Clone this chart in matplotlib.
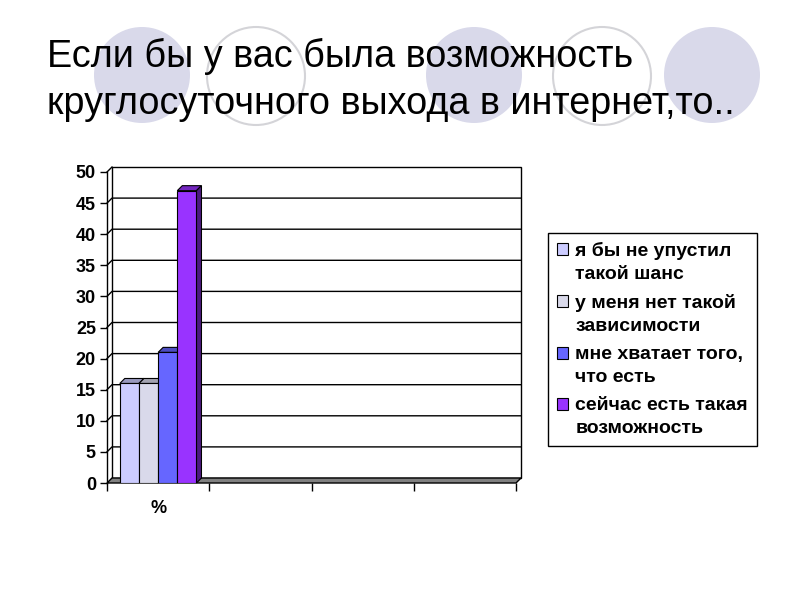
import matplotlib.pyplot as plt
from matplotlib.patches import Polygon, Rectangle, Circle, Patch
from matplotlib.legend_handler import HandlerPatch
import matplotlib.colors as mcolors

plt.rcParams['font.family'] = ['Liberation Sans', 'DejaVu Sans']

# data
title_lines = ['Если бы у вас была возможность',
               'круглосуточного выхода в интернет,то..']
categories = ['%', '', '', '']
series_names = ['я бы не упустил\nтакой шанс',
                'у меня нет такой\nзависимости',
                'мне хватает того,\nчто есть',
                'сейчас есть такая\nвозможность']
series_values = [16, 16, 21, 47]
series_colors = ['#CCCCFF', '#D9D9EA', '#6666FF', '#9933FF']
y_ticks = list(range(0, 55, 5))

fig = plt.figure(figsize=(8, 6), dpi=100)

# slide decoration + title, drawn in pixel coords
bg = fig.add_axes([0, 0, 1, 1])
bg.set_xlim(0, 800)
bg.set_ylim(600, 0)
bg.axis('off')
for cx, filled in [(142, True), (256, False), (474, True), (602, False), (712, True)]:
    if filled:
        bg.add_patch(Circle((cx, 75), 48, facecolor='#D9D9EA', edgecolor='none'))
    else:
        bg.add_patch(Circle((cx, 76), 49, facecolor='white', edgecolor='#D4D4D8', lw=1.5))
for i, line in enumerate(title_lines):
    bg.text(47, 67 + i * 47, line, fontsize=27.2, va='baseline', ha='left', color='black')

# chart (front plane of the 3d box)
ax = fig.add_axes([107 / 800, 117 / 600, 409 / 800, 311 / 600])
ax.set_xlim(0, len(categories))
ax.set_ylim(0, 50)
ax.patch.set_visible(False)
for s in ['top', 'right', 'bottom']:
    ax.spines[s].set_visible(False)
ax.spines['left'].set_linewidth(1)
ax.spines['left'].set_zorder(20)

ax.set_yticks(y_ticks)
ax.set_yticklabels([str(t) for t in y_ticks], fontsize=13, fontweight='bold')
ax.tick_params(axis='y', direction='out', length=5, width=1, pad=3)
ax.set_xticks(range(len(categories) + 1))
ax.set_xticklabels([])
ax.tick_params(axis='x', which='major', direction='out', length=6, width=1)
ax.set_xticks([i + 0.5 for i in range(len(categories))], minor=True)
ax.set_xticklabels(categories, minor=True, fontsize=13, fontweight='bold')
ax.tick_params(axis='x', which='minor', length=0, pad=12)

# depth of the 3d effect, 5 px
dx = 5 / (409 / len(categories))
dy = 5 / (311 / 50)
n_cat = len(categories)

ax.add_patch(Rectangle((dx, dy), n_cat, 50, facecolor='white', edgecolor='black',
                       lw=1, clip_on=False, zorder=0))
for v in y_ticks[1:-1]:
    ax.plot([0, dx, n_cat + dx], [v, v + dy, v + dy], color='black', lw=1,
            clip_on=False, zorder=1)
ax.plot([0, dx], [50, 50 + dy], color='black', lw=1, clip_on=False, zorder=1)
ax.add_patch(Polygon([(0, 0), (n_cat, 0), (n_cat + dx, dy), (dx, dy)],
                     closed=True, facecolor='#808080', edgecolor='black', lw=1,
                     clip_on=False, zorder=2))


def shade(c, f):
    r, g, b = mcolors.to_rgb(c)
    return (r * f, g * f, b * f)


w = 0.75 / len(series_values)
lefts = [0.125 + i * w for i in range(len(series_values))]
bars = ax.bar([l + w / 2 for l in lefts], series_values, width=w,
              color=series_colors, edgecolor='black', lw=0.8)
for i, (p, l, v, c) in enumerate(zip(bars.patches, lefts, series_values, series_colors)):
    p.set_zorder(4 + 2 * i)
    r = l + w
    top = Polygon([(l, v), (l + dx, v + dy), (r + dx, v + dy), (r, v)], closed=True,
                  facecolor=shade(c, 0.75), edgecolor='black', lw=0.8, zorder=3 + 2 * i,
                  clip_on=False)
    side = Polygon([(r, 0), (r + dx, dy), (r + dx, v + dy), (r, v)], closed=True,
                   facecolor=shade(c, 0.5), edgecolor='black', lw=0.8, zorder=3 + 2 * i,
                   clip_on=False)
    ax.add_patch(top)
    ax.add_patch(side)


# legend squares sit next to the first line of each label
def top_square(legend, orig_handle, xdescent, ydescent, width, height, fontsize):
    return Rectangle((-xdescent, -ydescent + 0.66 * fontsize), width, height)


handles = [Patch(facecolor=c, edgecolor='black', lw=0.8) for c in series_colors]
leg = fig.legend(handles, series_names, loc='upper left',
                 bbox_to_anchor=(548 / 800, 1 - 233 / 600),
                 prop={'size': 14, 'weight': 'bold'}, frameon=True, fancybox=False,
                 edgecolor='black', framealpha=1, handlelength=0.6, handleheight=0.6,
                 handletextpad=0.35, borderpad=0.45, labelspacing=0.58, borderaxespad=0,
                 handler_map={Patch: HandlerPatch(patch_func=top_square)})
leg.get_frame().set_linewidth(1)
for t in leg.get_texts():
    t.set_linespacing(1.45)

fig.savefig('out.png', dpi=100, facecolor='white')
